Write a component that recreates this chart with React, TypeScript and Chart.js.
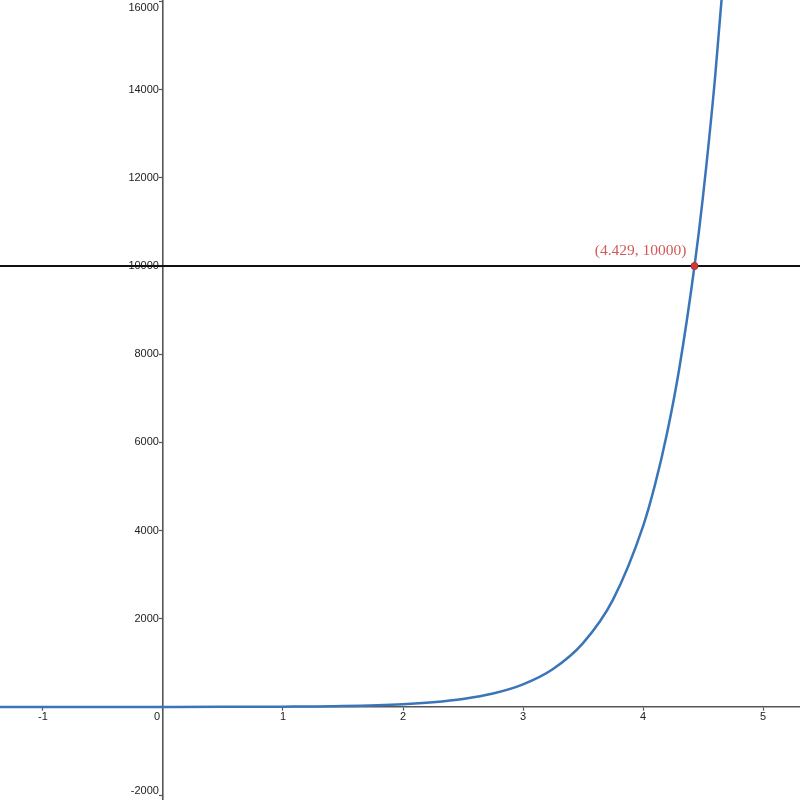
import React, { useEffect, useRef } from "react";
import { Chart, registerables } from "chart.js";

Chart.register(...registerables);

// Curve samples (x, y)
const curveX = [-1.4, -1, -0.5, 0, 0.5, 1, 1.5, 2, 2.25, 2.5, 2.75, 3, 3.25, 3.5, 3.75, 4, 4.1, 4.2, 4.3, 4.429, 4.5, 4.6, 4.7];
const curveY = [0.05, 0.125, 0.35, 1, 2.8, 8, 22.6, 64, 108, 181, 304, 512, 861, 1448, 2435, 4096, 5042, 6208, 7643, 10000, 11585, 14263, 17560];

// Visible window
const xMin = -1.358;
const xMax = 5.308;
const yMin = -2109;
const yMax = 16032;

// Tick values
const xTicks = [-1, 0, 1, 2, 3, 4, 5];
const yTicks = [-2000, 0, 2000, 4000, 6000, 8000, 10000, 12000, 14000, 16000];

// Horizontal line and intersection point
const thresholdY = 10000;
const intersectionX = [4.429];
const intersectionY = [10000];
const intersectionLabel = "(4.429, 10000)";

const axisColor = "#555555";
const tickLabelColor = "#222222";
const curveColor = "#3a75b9";
const pointColor = "#cc3b3b";
const labelColor = "#d05a5a";

const labelPlugin = {
  id: "labelPlugin",
  beforeDraw(chart: any) {
    const ys = chart.scales.y;
    const xs = chart.scales.x;
    const h = chart.height;
    const yAxisPx = xs.getPixelForValue(0);
    ys.getLabelItems().forEach((it: any) => {
      const t = it.options.translation;
      t[0] = yAxisPx - 4;
      if (t[1] < 8) t[1] = 8;
      if (t[1] > h - 9) t[1] = h - 9;
    });
    xs.getLabelItems().forEach((it: any) => {
      const t = it.options.translation;
      if (String(it.label) === "0") t[0] -= 6;
    });
  },
  afterDatasetsDraw(chart: any) {
    const meta = chart.getDatasetMeta(0);
    const pt = meta.data[0];
    if (!pt) return;
    const ctx = chart.ctx;
    ctx.save();
    ctx.font = "15.5px 'Liberation Serif', 'DejaVu Serif', serif";
    ctx.fillStyle = labelColor;
    ctx.textAlign = "right";
    ctx.textBaseline = "alphabetic";
    ctx.fillText(intersectionLabel, pt.x - 8, pt.y - 11);
    ctx.restore();
  },
};

export default function App() {
  const ref = useRef<HTMLCanvasElement | null>(null);

  useEffect(() => {
    if (!ref.current) return;
    const curve = curveX.map((x, i) => ({ x, y: curveY[i] }));
    const hline = [
      { x: xMin - 1, y: thresholdY },
      { x: xMax + 1, y: thresholdY },
    ];
    const pts = intersectionX.map((x, i) => ({ x, y: intersectionY[i] }));

    const axisCommon = (ticks: number[]) => ({
      afterBuildTicks(scale: any) {
        scale.ticks = ticks.map((v) => ({ value: v }));
      },
      grid: {
        drawOnChartArea: false,
        drawTicks: true,
        tickLength: 3,
        color: axisColor,
        tickWidth: 1.2,
      },
      border: { display: true, color: axisColor, width: 1.6 },
    });

    const chart = new Chart(ref.current, {
      type: "line",
      data: {
        datasets: [
          {
            data: pts,
            showLine: false,
            pointRadius: 3.5,
            pointBackgroundColor: pointColor,
            pointBorderColor: "#b83030",
            pointBorderWidth: 1,
            order: 0,
          } as any,
          {
            data: curve,
            borderColor: curveColor,
            borderWidth: 2.5,
            pointRadius: 0,
            cubicInterpolationMode: "monotone",
            order: 1,
          },
          {
            data: hline,
            borderColor: "#111111",
            borderWidth: 2,
            pointRadius: 0,
            order: 2,
          },
        ],
      },
      options: {
        animation: false,
        responsive: false,
        maintainAspectRatio: false,
        layout: { padding: 0, autoPadding: false },
        plugins: {
          legend: { display: false },
          tooltip: { enabled: false },
          title: { display: false },
        },
        scales: {
          x: {
            type: "linear",
            min: xMin,
            max: xMax,
            position: { y: 0 } as any,
            ...axisCommon(xTicks),
            afterFit(scale: any) {
              scale.height = 0;
              scale.paddingLeft = 0;
              scale.paddingRight = 0;
              scale.paddingTop = 0;
              scale.paddingBottom = 0;
            },
            ticks: {
              autoSkip: false,
              maxRotation: 0,
              padding: 0,
              color: tickLabelColor,
              font: { family: "'Liberation Sans', Arial, sans-serif", size: 11 },
              callback: (v: any) => String(v),
            },
          } as any,
          y: {
            type: "linear",
            min: yMin,
            max: yMax,
            position: { x: 0 } as any,
            ...axisCommon(yTicks),
            afterFit(scale: any) {
              scale.width = 0;
              scale.paddingLeft = 0;
              scale.paddingRight = 0;
              scale.paddingTop = 0;
              scale.paddingBottom = 0;
            },
            ticks: {
              autoSkip: false,
              padding: 1,
              color: tickLabelColor,
              font: { family: "'Liberation Sans', Arial, sans-serif", size: 11 },
              callback: (v: any) => (Number(v) === 0 ? "" : String(v)),
            },
          } as any,
        },
      },
      plugins: [labelPlugin],
    });
    return () => chart.destroy();
  }, []);

  return (
    <div style={{ position: "absolute", left: 0, top: 0, width: 800, height: 800, background: "#ffffff" }}>
      <canvas ref={ref} width={800} height={800} style={{ display: "block", width: 800, height: 800 }} />
    </div>
  );
}
